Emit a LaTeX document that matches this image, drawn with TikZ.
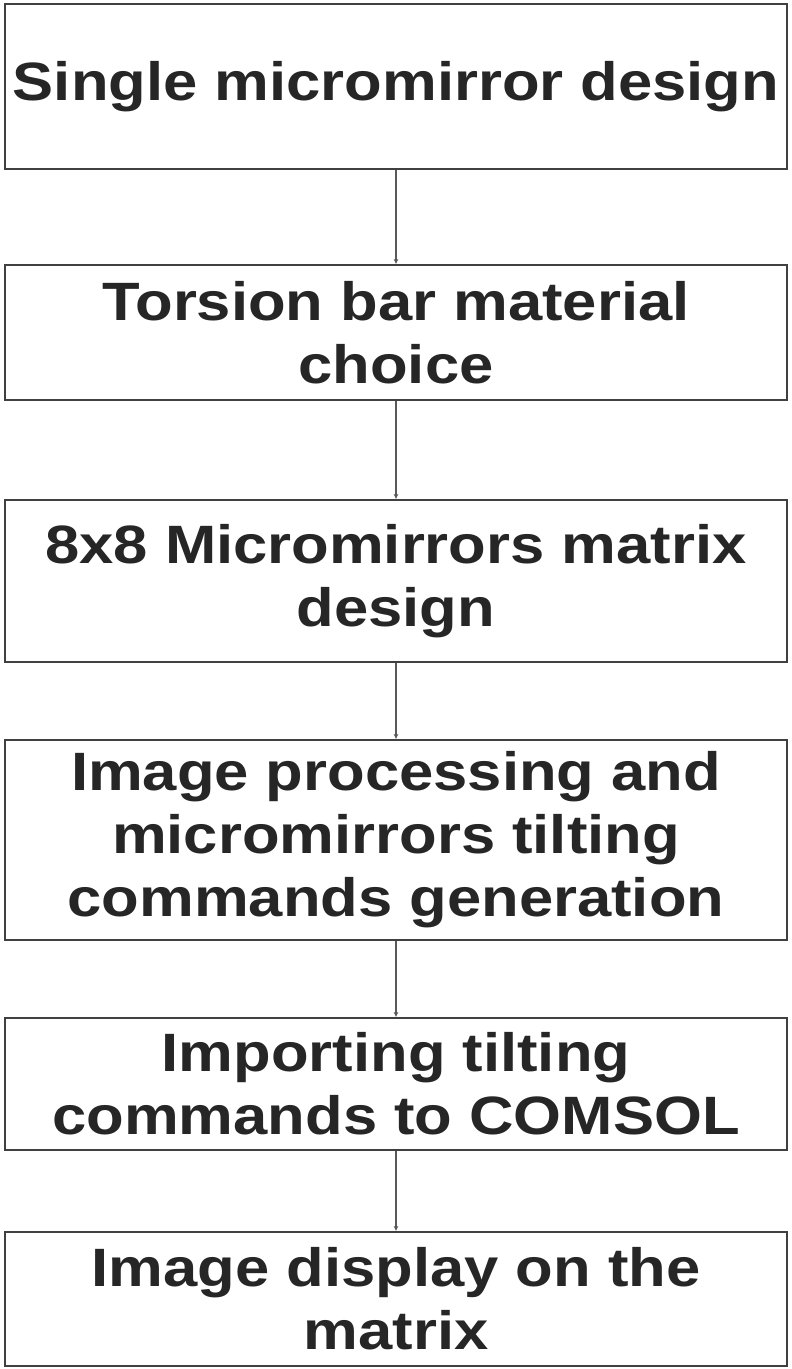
\documentclass[tikz,border=0pt]{standalone}
\usepackage{fontspec}
\setmainfont{Liberation Sans}[FakeStretch=1.14]
\usetikzlibrary{arrows.meta}
\begin{document}
\begin{tikzpicture}[x=1pt,y=-1pt,
  stepbox/.style={draw=black!75,line width=1.5pt,minimum width=782pt,inner sep=0pt,align=center,
    font=\fontsize{54}{63}\selectfont\bfseries,text=black!85},
  conn/.style={draw=black!65,line width=1.5pt,-{Latex[length=5pt,width=5pt]}}]
\useasboundingbox (0,0) rectangle (792,1369);
\node[stepbox,minimum height=165pt] (a) at (396,86.5) {Single micromirror design};
\node[stepbox,minimum height=135pt] (b) at (396,332.5) {Torsion bar material\\choice};
\node[stepbox,minimum height=162pt] (c) at (396,581) {8x8 Micromirrors matrix\\design};
\node[stepbox,minimum height=200pt] (d) at (396,840) {Image processing and\\micromirrors tilting\\commands generation};
\node[stepbox,minimum height=132pt] (e) at (396,1084) {Importing tilting\\commands to COMSOL};
\node[stepbox,minimum height=134pt] (f) at (396,1299) {Image display on the\\matrix};
\draw[conn] (a) -- (b);
\draw[conn] (b) -- (c);
\draw[conn] (c) -- (d);
\draw[conn] (d) -- (e);
\draw[conn] (e) -- (f);
\end{tikzpicture}
\end{document}
